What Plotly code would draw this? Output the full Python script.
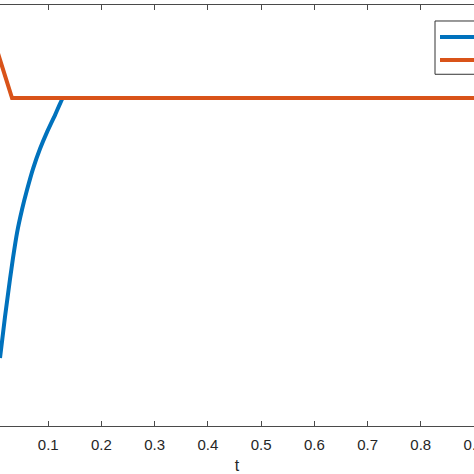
import plotly.graph_objects as go

# (y in arbitrary units, plateau = 1)
t_blue = [0.0094, 0.0188, 0.0282, 0.0338, 0.0414, 0.0508, 0.0602, 0.0714,
          0.0846, 0.0977, 0.1128, 0.1278, 0.1320, 0.1400, 0.2, 0.5, 1.0]
y_blue = [0.207, 0.333, 0.448, 0.512, 0.589, 0.660, 0.720, 0.784,
          0.845, 0.896, 0.948, 1.0, 1.0, 1.0, 1.0, 1.0, 1.0]

t_orange = [0.0, 0.0320, 0.5, 1.0]
y_orange = [1.165, 1.0, 1.0, 1.0]

tick_vals = [0.1, 0.2, 0.3, 0.4, 0.5, 0.6, 0.7, 0.8, 0.9]

BLUE = "#0072BD"
ORANGE = "#D95319"
AXC = "#4a4a4a"

fig = go.Figure()
fig.add_trace(go.Scatter(x=t_blue, y=y_blue, mode="lines",
                         line=dict(color=BLUE, width=4, shape="spline", smoothing=0.5),
                         name="x1"))
fig.add_trace(go.Scatter(x=t_orange, y=y_orange, mode="lines",
                         line=dict(color=ORANGE, width=4), name="x2"))

fig.update_xaxes(range=[0.0094, 0.9], tickvals=tick_vals,
                 ticktext=[f"{v:g}" for v in tick_vals],
                 showline=True, linecolor=AXC, linewidth=1, mirror="ticks",
                 ticks="inside", ticklen=5, tickcolor=AXC, showgrid=False,
                 zeroline=False, ticklabeloverflow="allow", automargin=True,
                 ticklabelstandoff=5,
                 tickfont=dict(size=15, color="#262626"),
                 title=dict(text="t", font=dict(size=16, color="#262626"), standoff=8))
fig.update_yaxes(range=[0, 421 / 328], showline=False, showticklabels=False,
                 ticks="", showgrid=False, zeroline=False, automargin=False)

# legend box (text cropped away in the reference)
W = H = 474
def px(x): return x / W
def py(y): return 1 - y / H
fig.add_shape(type="rect", xref="paper", yref="paper",
              x0=px(435), x1=px(480), y0=py(78), y1=py(18),
              line=dict(color="#333333", width=1), fillcolor="white", layer="above")
fig.add_shape(type="line", xref="paper", yref="paper",
              x0=px(440), x1=px(480), y0=py(36), y1=py(36),
              line=dict(color=BLUE, width=4), layer="above")
fig.add_shape(type="line", xref="paper", yref="paper",
              x0=px(440), x1=px(480), y0=py(62), y1=py(62),
              line=dict(color=ORANGE, width=4), layer="above")

fig.update_layout(width=W, height=H, showlegend=False,
                  margin=dict(l=0, r=0, t=5, b=48, autoexpand=False),
                  paper_bgcolor="white", plot_bgcolor="white",
                  font=dict(family="Liberation Sans, Arial, sans-serif"))

fig.write_html("out.html", config={"displayModeBar": False},
               post_script="document.body.style.margin='0';")
